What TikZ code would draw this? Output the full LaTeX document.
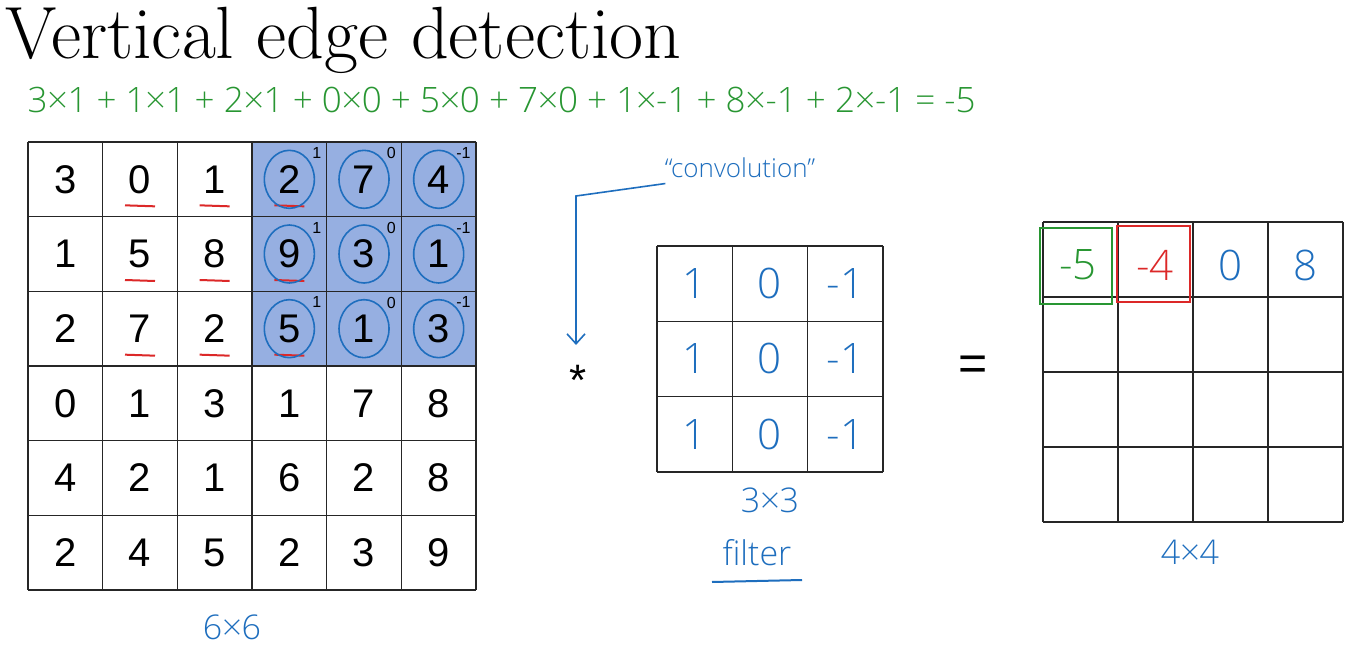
\documentclass[tikz,border=0pt]{standalone}
\usepackage{fontspec}
\setsansfont{Liberation Sans}
\newfontfamily\hand{Open Sans Light}
\usetikzlibrary{arrows.meta}
\definecolor{hb}{RGB}{30,110,190}
\definecolor{hg}{RGB}{40,150,50}
\definecolor{hr}{RGB}{220,40,40}
\definecolor{sh}{RGB}{150,175,225}
\tikzset{num/.style={font=\sffamily\fontsize{40}{40}\selectfont},
 hnum/.style={font=\hand\fontsize{42}{42}\selectfont,text=hb},
 sup/.style={font=\sffamily\fontsize{16}{16}\selectfont},
 lab/.style={font=\hand\fontsize{34}{34}\selectfont,text=hb},
 grid/.style={draw=black!85,line width=1.4pt}}
\begin{document}
\begin{tikzpicture}[x=1pt,y=-1pt]
\useasboundingbox (0,0) rectangle (1367,660);
\fill[white] (0,0) rectangle (1367,660);
\node[anchor=west,font=\fontsize{74}{74}\selectfont] (title) at (2,40) {Vertical edge detection};
\node[anchor=west,text=hg,font=\hand\fontsize{35}{35}\selectfont] (eq) at (24,100) {3×1 + 1×1 + 2×1 + 0×0 + 5×0 + 7×0 + 1×-1 + 8×-1 + 2×-1 = -5};
% input grid
\def\cs{74.67}
\fill[sh] (28+3*\cs,142) rectangle (28+6*\cs,142+3*\cs);
\foreach \i in {0,...,6}{
 \draw[grid] (28+\i*\cs,142) -- (28+\i*\cs,590);
 \draw[grid] (28,142+\i*\cs) -- (476,142+\i*\cs);}
\foreach \row [count=\r from 0] in {{3,0,1,2,7,4},{1,5,8,9,3,1},{2,7,2,5,1,3},{0,1,3,1,7,8},{4,2,1,6,2,8},{2,4,5,2,3,9}}{
 \foreach \v [count=\c from 0] in \row {
  \node[num] (a-\r-\c) at (28+\c*\cs+0.5*\cs,142+\r*\cs+0.5*\cs) {\v};}}
\foreach \r in {0,1,2}{
 \foreach \c in {1,2,3}{
  \draw[hr,line width=2pt] ([xshift=-15pt,yshift=-26pt]a-\r-\c.center) -- ([xshift=15pt,yshift=-27pt]a-\r-\c.center);}
 \foreach \c/\s in {3/1,4/0,5/-1}{
  \draw[hb,line width=1.6pt] (a-\r-\c.center) ellipse (25 and 29);
  \node[sup,anchor=north east] (s-\r-\c) at (28+\c*\cs+\cs-2,142+\r*\cs+2) {\s};}}
\node[lab] (six) at (232,627) {6×6};
% convolution
\node[font=\hand\fontsize{26}{26}\selectfont,text=hb] (conv) at (740,168) {“convolution”};
\coordinate (bend) at (576,196);
\coordinate (tip) at (576,345);
\draw[hb,line width=1.6pt,-{Straight Barb[length=10pt,width=18pt]}] (conv.south west) ++(4,2) -- (bend) -- (tip);
\node[font=\sffamily\fontsize{44}{44}\selectfont] (star) at (578,380) {*};
% filter
\def\fs{75.3}
\foreach \i in {0,...,3}{
 \draw[grid] (657+\i*\fs,246) -- (657+\i*\fs,472);
 \draw[grid] (657,246+\i*\fs) -- (883,246+\i*\fs);}
\foreach \row [count=\r from 0] in {{1,0,-1},{1,0,-1},{1,0,-1}}{
 \foreach \v [count=\c from 0] in \row {
  \node[hnum] (f-\r-\c) at (657+\c*\fs+0.5*\fs,246+\r*\fs+0.5*\fs) {\v};}}
\node[lab] (tt) at (770,500) {3×3};
\node[lab] (filt) at (757,553) {filter};
\draw[hb,line width=2pt] (712,582) -- (802,580);
\node[font=\sffamily\fontsize{50}{50}\selectfont] (eqs) at (973,368) {=};
% output
\def\os{75}
\foreach \i in {0,...,4}{
 \draw[grid] (1043+\i*\os,222) -- (1043+\i*\os,522);
 \draw[grid] (1043,222+\i*\os) -- (1343,222+\i*\os);}
\node[hnum,text=hg] (o-0) at (1078,265) {-5};
\node[hnum,text=hr] (o-1) at (1155,265) {-4};
\node[hnum] (o-2) at (1230,265) {0};
\node[hnum] (o-3) at (1305,265) {8};
\draw[hg,line width=1.8pt] (1040,228) rectangle (1112,304);
\draw[hr,line width=1.8pt] (1117,226) rectangle (1190,302);
\node[lab] (ff) at (1190,552) {4×4};
\end{tikzpicture}
\end{document}
